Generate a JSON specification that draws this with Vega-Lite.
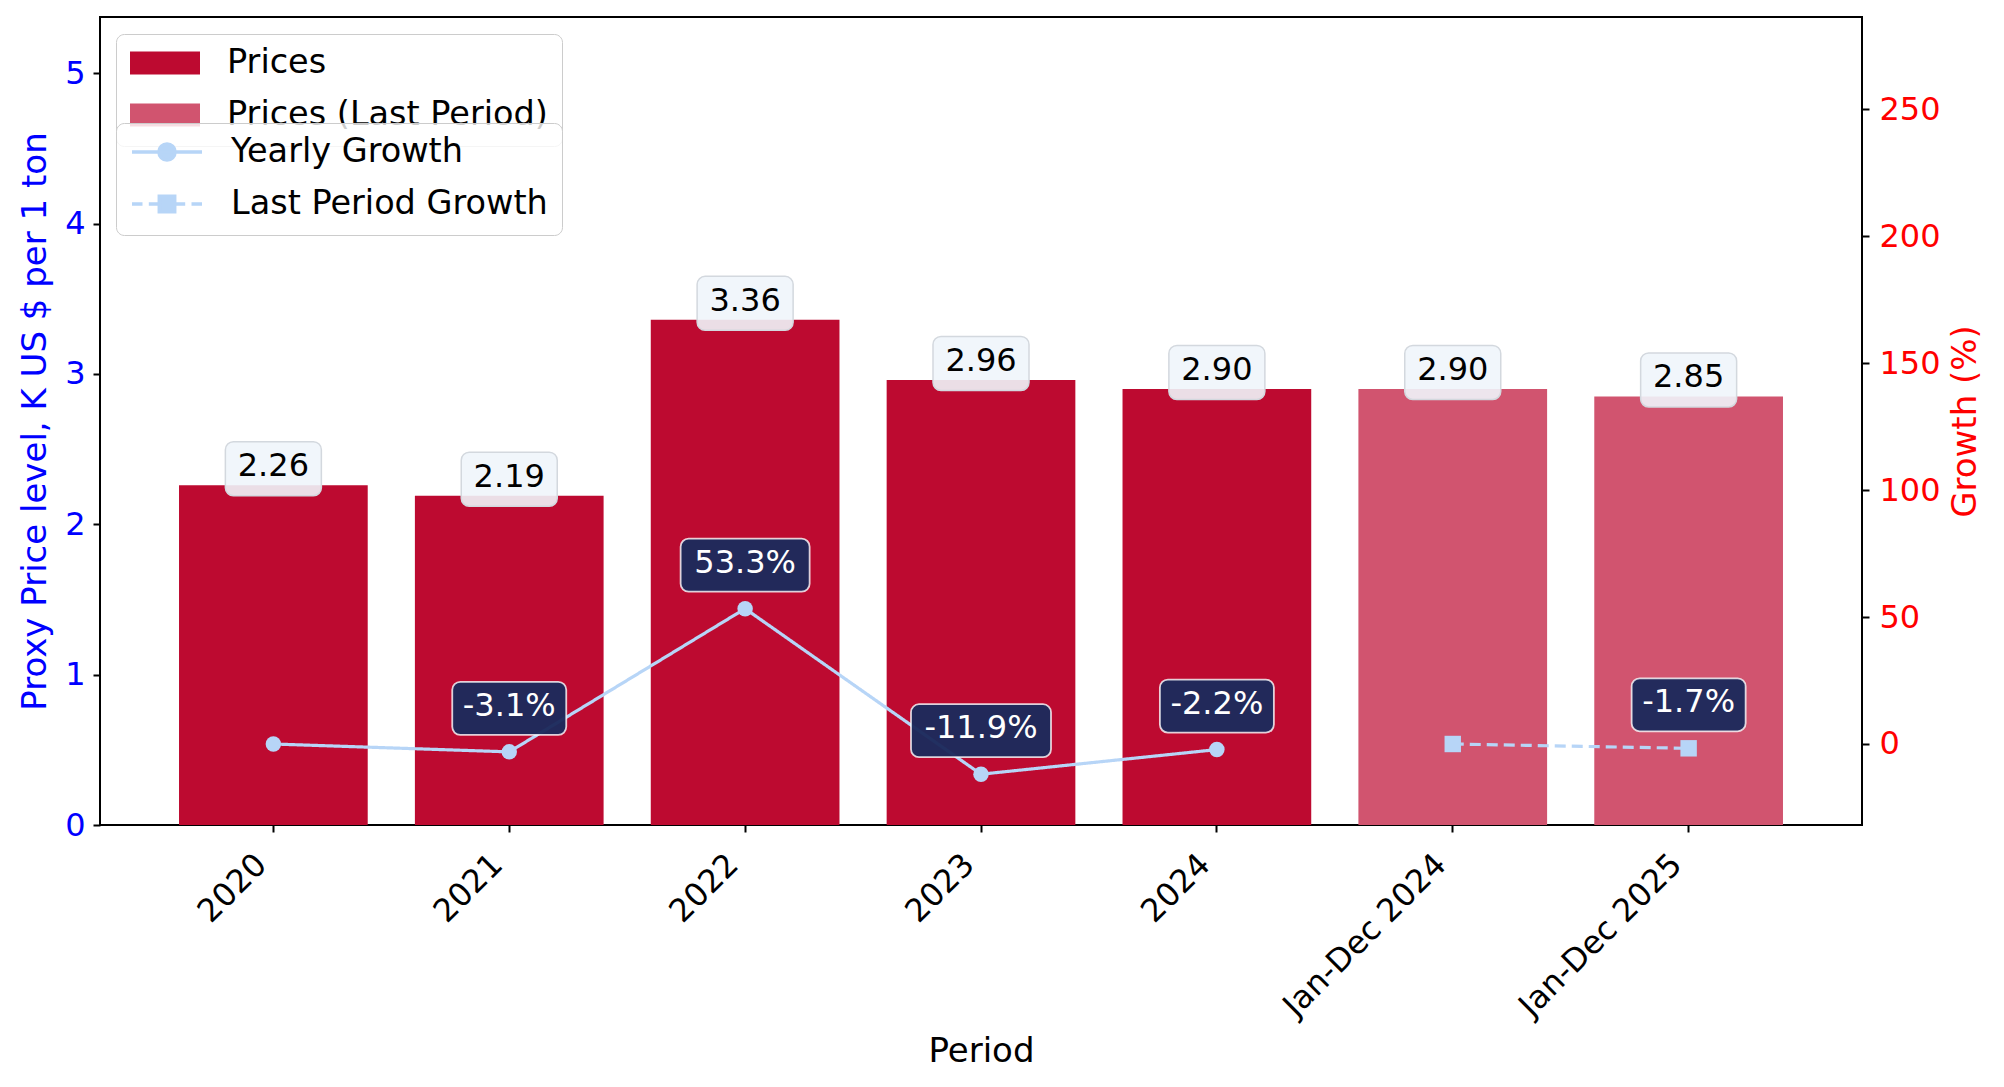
{
  "$schema": "https://vega.github.io/schema/vega-lite/v6.json",
  "description": "Proxy price level bars with yearly growth lines on a second axis.",
  "width": 1762,
  "height": 808,
  "autosize": {"type": "none"},
  "padding": {"left": 100, "top": 17, "right": 142, "bottom": 262},
  "data": {
    "values": [
      {"period": "2020", "price": 2.26, "kind": "Prices", "growth": 0, "series": "Yearly Growth", "glabel": null},
      {"period": "2021", "price": 2.19, "kind": "Prices", "growth": -3.1, "series": "Yearly Growth", "glabel": "-3.1%"},
      {"period": "2022", "price": 3.36, "kind": "Prices", "growth": 53.3, "series": "Yearly Growth", "glabel": "53.3%"},
      {"period": "2023", "price": 2.96, "kind": "Prices", "growth": -11.9, "series": "Yearly Growth", "glabel": "-11.9%"},
      {"period": "2024", "price": 2.90, "kind": "Prices", "growth": -2.2, "series": "Yearly Growth", "glabel": "-2.2%"},
      {"period": "Jan-Dec 2024", "price": 2.90, "kind": "Prices (Last Period)", "growth": 0, "series": "Last Period Growth", "glabel": null},
      {"period": "Jan-Dec 2025", "price": 2.85, "kind": "Prices (Last Period)", "growth": -1.7, "series": "Last Period Growth", "glabel": "-1.7%"}
    ]
  },
  "encoding": {
    "x": {
      "field": "period",
      "type": "nominal",
      "sort": null,
      "title": "Period",
      "scale": {"paddingInner": 0.2, "paddingOuter": 0.335},
      "axis": {"labelAngle": -45, "labelAlign": "right", "labelBaseline": "bottom", "labelPadding": 39, "labelLimit": 0, "titlePadding": 13}
    }
  },
  "layer": [
    {
      "layer": [
        {
          "mark": {"type": "bar"},
          "encoding": {
            "y": {
              "field": "price",
              "type": "quantitative",
              "title": "Proxy Price level, K US $ per 1 ton",
              "scale": {"domain": [0, 5.374], "nice": false},
              "axis": {"orient": "left", "values": [0, 1, 2, 3, 4, 5], "format": "d", "labelColor": "#0000FF", "titleColor": "#0000FF", "labelPadding": 8, "titlePadding": 12}
            },
            "color": {
              "field": "kind",
              "type": "nominal",
              "scale": {"domain": ["Prices", "Prices (Last Period)"], "range": ["#BD0A30", "#D1546F"]},
              "legend": {
                "title": null,
                "orient": "none",
                "legendX": 16,
                "legendY": 17,
                "symbolType": "M-1,-0.33H1V0.33H-1Z",
                "symbolSize": 4900,
                "symbolStrokeWidth": 0,
                "clipHeight": 30,
                "rowPadding": 18,
                "labelOffset": 27,
                "labelLimit": 0,
                "padding": 14
              }
            }
          }
        },
        {
          "mark": {"type": "rect", "width": 96, "height": 54, "cornerRadius": 8, "fill": "#EFF5FB", "fillOpacity": 0.9, "stroke": "#D3D8DE", "strokeWidth": 1.5, "yOffset": -16.5},
          "encoding": {"y": {"field": "price", "type": "quantitative"}}
        },
        {
          "mark": {"type": "text", "dy": -19, "fontSize": 32, "color": "black", "baseline": "middle", "align": "center"},
          "encoding": {
            "y": {"field": "price", "type": "quantitative"},
            "text": {"field": "price", "type": "quantitative", "format": ".2f"}
          }
        }
      ]
    },
    {
      "layer": [
        {
          "mark": {"type": "line", "strokeWidth": 3.2},
          "encoding": {
            "y": {
              "field": "growth",
              "type": "quantitative",
              "title": "Growth (%)",
              "scale": {"domain": [-31.9, 286.3], "nice": false, "zero": false},
              "axis": {"orient": "right", "values": [0, 50, 100, 150, 200, 250], "labelColor": "#FF0000", "titleColor": "#FF0000", "labelPadding": 10, "titlePadding": 8, "titleAngle": 270, "titleBaseline": "top"}
            },
            "color": {
              "field": "series",
              "type": "nominal",
              "scale": {"domain": ["Yearly Growth", "Last Period Growth"], "range": ["#B7D5F7", "#B7D5F7"]},
              "legend": {
                "title": null,
                "orient": "none",
                "legendX": 16,
                "legendY": 106,
                "symbolSize": 4900,
                "clipHeight": 30,
                "rowPadding": 18,
                "labelOffset": 27,
                "labelLimit": 0,
                "padding": 14,
                "encode": {
                  "symbols": {
                    "update": {
                      "shape": {"signal": "datum.value === 'Yearly Growth' ? 'M-1,0H1M0.23,0A0.23,0.23,0,1,1,-0.23,0A0.23,0.23,0,1,1,0.23,0Z' : 'M-1,0H-0.7M-0.52,0H-0.22M0.22,0H0.52M0.7,0H1M-0.22,-0.22H0.22V0.22H-0.22Z'"},
                      "fill": {"value": "#B7D5F7"},
                      "stroke": {"value": "#B7D5F7"},
                      "strokeWidth": {"value": 3.5},
                      "opacity": {"value": 1}
                    }
                  }
                }
              }
            },
            "strokeDash": {
              "field": "series",
              "type": "nominal",
              "scale": {"domain": ["Yearly Growth", "Last Period Growth"], "range": [[1, 0], [11, 6]]},
              "legend": null
            }
          }
        },
        {
          "mark": {"type": "point", "filled": true, "opacity": 1},
          "encoding": {
            "y": {"field": "growth", "type": "quantitative"},
            "color": {"field": "series", "type": "nominal"},
            "shape": {
              "field": "series",
              "type": "nominal",
              "scale": {"domain": ["Yearly Growth", "Last Period Growth"], "range": ["circle", "square"]},
              "legend": null
            },
            "size": {
              "field": "series",
              "type": "nominal",
              "scale": {"domain": ["Yearly Growth", "Last Period Growth"], "range": [240, 270]},
              "legend": null
            }
          }
        },
        {
          "transform": [{"filter": "datum.glabel != null && length(datum.glabel) == 5 && datum.growth < 0"}],
          "mark": {"type": "rect", "width": 114, "height": 53, "cornerRadius": 8, "fill": "#1D2A5C", "fillOpacity": 0.97, "stroke": "white", "strokeOpacity": 0.8, "strokeWidth": 1.8, "yOffset": -43.5},
          "encoding": {"y": {"field": "growth", "type": "quantitative"}}
        },
        {
          "transform": [{"filter": "datum.glabel == '53.3%'"}],
          "mark": {"type": "rect", "width": 129, "height": 53, "cornerRadius": 8, "fill": "#1D2A5C", "fillOpacity": 0.97, "stroke": "white", "strokeOpacity": 0.8, "strokeWidth": 1.8, "yOffset": -43.5},
          "encoding": {"y": {"field": "growth", "type": "quantitative"}}
        },
        {
          "transform": [{"filter": "datum.glabel == '-11.9%'"}],
          "mark": {"type": "rect", "width": 140, "height": 53, "cornerRadius": 8, "fill": "#1D2A5C", "fillOpacity": 0.97, "stroke": "white", "strokeOpacity": 0.8, "strokeWidth": 1.8, "yOffset": -43.5},
          "encoding": {"y": {"field": "growth", "type": "quantitative"}}
        },
        {
          "transform": [{"filter": "datum.glabel != null"}],
          "mark": {"type": "text", "dy": -46, "fontSize": 32, "color": "white", "baseline": "middle", "align": "center"},
          "encoding": {
            "y": {"field": "growth", "type": "quantitative"},
            "text": {"field": "glabel", "type": "nominal"}
          }
        }
      ]
    }
  ],
  "resolve": {
    "scale": {"y": "independent", "color": "independent"},
    "legend": {"color": "independent"}
  },
  "config": {
    "font": "DejaVu Sans",
    "view": {"stroke": "black", "strokeWidth": 2},
    "axis": {
      "grid": false,
      "domain": false,
      "tickColor": "black",
      "tickWidth": 2,
      "tickSize": 7,
      "labelFontSize": 32,
      "titleFontSize": 34,
      "titleFontWeight": "normal",
      "labelColor": "black",
      "titleColor": "black"
    },
    "legend": {
      "labelFontSize": 33.5,
      "labelColor": "black",
      "strokeColor": "#CCCCCC",
      "fillColor": "rgba(255,255,255,0.8)",
      "cornerRadius": 8
    }
  }
}
